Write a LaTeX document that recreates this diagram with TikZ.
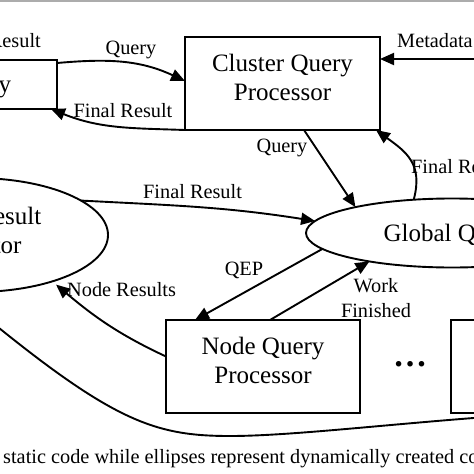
\documentclass[tikz,border=0pt]{standalone}
\usepackage{fontspec}
\setmainfont{Liberation Serif}
\usetikzlibrary{arrows.meta,shapes.geometric}
\newcommand\bigfont{\fontsize{25}{29}\selectfont}
\newcommand\lblfont{\fontsize{20.3}{25}\selectfont}
\tikzset{
  box/.style={draw, rectangle, line width=1.9pt, inner sep=0pt, outer sep=0pt, font=\bigfont, align=center, text depth=11.5pt},
  proc/.style={draw, ellipse, line width=1.9pt, inner sep=0pt, outer sep=0pt, font=\bigfont, align=center},
  lbl/.style={inner sep=0pt, font=\lblfont},
  conn/.style={line width=1.9pt, -{Triangle[length=14pt,width=12pt]}},
  plain/.style={line width=1.9pt}
}
\begin{document}
\begin{tikzpicture}[x=1pt,y=-1pt]
\useasboundingbox (0,0) rectangle (474,474);
\clip (0,0) rectangle (474,474);
\fill[gray!65] (0,0) rectangle (474,2.2);

% nodes
\node[box, minimum width=154pt, minimum height=49pt, text depth=0pt] (lbox) at (-20,84.5) {Query};
\node[box, minimum width=195pt, minimum height=93pt] (cqp) at (282.5,83.5) {Cluster Query\\Processor};
\node[box, minimum width=194pt, minimum height=93pt] (nqp) at (263,366.5) {Node Query\\Processor};
\node[box, minimum width=194pt, minimum height=93pt] (rbox) at (548,366.5) {};
\node[proc, minimum width=292pt, minimum height=69pt, text depth=0pt] (gq) at (452,233) {Global Query};
\node[proc, minimum width=266pt, minimum height=114pt, text depth=9.4pt] (rc) at (-25,235) {Query Result\\Collector};
\coordinate (mdsrc) at (490,59);

% connectors
\draw[conn] ([yshift=-3pt]lbox.north east) to[out=5,in=155] ([yshift=2.5pt]cqp.west);
\draw[conn] (cqp.south west) to[out=178,in=-22] ([xshift=-6pt]lbox.south east);
\draw[conn] (mdsrc) -- ([yshift=24.5pt]cqp.east);
\draw[conn] ([xshift=21.5pt]cqp.south) -- (gq.165.4);
\draw[conn] (gq.139.6) to[out=75,in=-36,looseness=1.2] ([xshift=-4pt]cqp.south east);
\draw[conn] (rc.18.4) to[out=-3,in=171] (gq.175.5);
\draw[conn] (gq.187.6) -- ([xshift=-68pt]nqp.north);
\draw[conn] ([xshift=7pt]nqp.north) -- (gq.199.9);
\draw[conn, shorten >=5pt] ([yshift=10pt]nqp.west) to[out=155,in=-40] (rc.-31);
\draw[plain] (rc.250) .. controls (108,420) and (150,436) .. (230,436)
  .. controls (300,436) and (420,420) .. (rbox.south);

% labels
\node[lbl, anchor=base east] (l1) at (41,47) {Final Result};
\node[lbl, anchor=base] (l2) at (131,54) {Query};
\node[lbl, anchor=base] (l3) at (123,117) {Final Result};
\node[lbl, anchor=base west] (l4) at (397,47) {Metadata};
\node[lbl, anchor=base] (l5) at (282,152) {Query};
\node[lbl, anchor=base west] (l6) at (411,173) {Final Result};
\node[lbl, anchor=base west] (l7) at (143,198) {Final Result};
\node[lbl, anchor=base] (l8) at (244,275) {QEP};
\node[lbl, anchor=base] (l9) at (376,292) {Work};
\node[lbl, anchor=base] (l10) at (376,317) {Finished};
\node[lbl, anchor=base west] (l11) at (67,296) {Node Results};
\node[inner sep=0pt, font=\fontsize{34}{34}\selectfont\bfseries, anchor=base] (dots) at (410,366.5) {…};
\node[lbl, anchor=base west] (cap) at (3,463) {static code while ellipses represent dynamically created components};
\end{tikzpicture}
\end{document}
